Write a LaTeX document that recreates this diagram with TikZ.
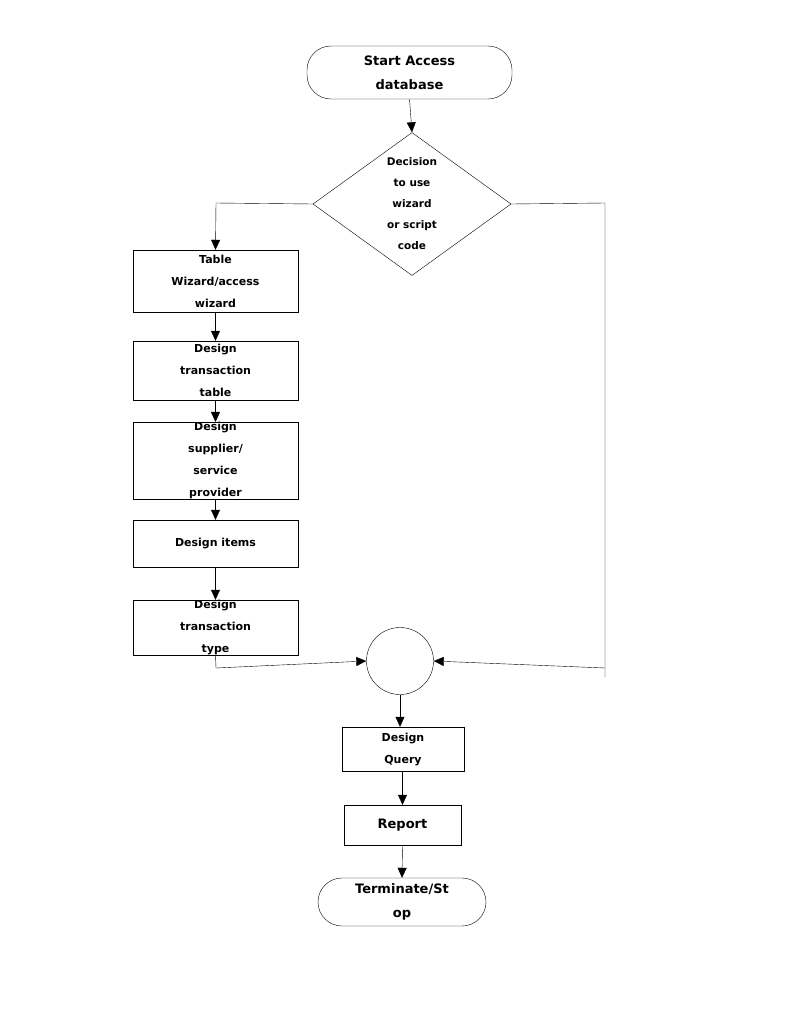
\documentclass[tikz,border=0pt]{standalone}
\usepackage{fontspec}
\setmainfont{DejaVu Sans}
\usetikzlibrary{shapes.geometric,arrows.meta}
\begin{document}
\begin{tikzpicture}[x=1pt,y=-1pt,
  box/.style={draw,inner sep=0,align=center,font=\bfseries\fontsize{11}{22}\selectfont},
  term/.style={draw,rounded corners=24pt,inner sep=0,align=center,font=\bfseries\fontsize{13}{24}\selectfont},
  arr/.style={-{Triangle[length=10pt,width=9pt]}},
  ln/.style={draw,line width=0.6pt}]
\useasboundingbox (0,0) rectangle (791,1023);
\node[term,minimum width=205pt,minimum height=53pt] (start) at (409.5,72.5) {Start Access\\database};
\node[draw,diamond,aspect=1.38,inner sep=0,minimum width=198pt,minimum height=143pt] (dec) at (412,204) {};
\node[align=center,font=\bfseries\fontsize{10.5}{21}\selectfont] at (412,204) {Decision\\to use\\wizard\\or script\\code};
\node[box,minimum width=165pt,minimum height=62pt] (b1) at (215.5,281) {Table\\Wizard/access\\wizard};
\node[box,minimum width=165pt,minimum height=59pt] (b2) at (215.5,370.5) {Design\\transaction\\table};
\node[box,minimum width=165pt,minimum height=57pt] (b3) at (215.5,460.5) {Design\\supplier/\\service\\provider};
\node[box,minimum width=165pt,minimum height=47pt] (b4) at (215.5,543.5) {Design items};
\node[box,minimum width=165pt,minimum height=55pt] (b5) at (215.5,627.5) {Design\\transaction\\type};
\node[draw,circle,minimum size=67pt,inner sep=0] (c) at (400,661) {};
\node[box,minimum width=122pt,minimum height=44pt] (q) at (403,749) {Design\\Query};
\node[box,font=\bfseries\fontsize{13}{24}\selectfont,minimum width=117pt,minimum height=40pt] (r) at (402.5,825) {Report};
\node[term,minimum width=168pt,minimum height=48pt] (t) at (402,902) {Terminate/St\\op};
\coordinate (l1) at (216,203);
\coordinate (r1) at (605,203);
\coordinate (r2) at (605,677);
\coordinate (r3) at (605,668);
\coordinate (l2) at (216,668);
\draw[arr] (start.south) -- (dec.north);
\draw (dec.west) -- (l1);
\draw[arr] (l1) -- (b1.north);
\draw (dec.east) -- (r1) -- (r2);
\draw[arr] (r3) -- (c.east);
\draw[arr] (b1) -- (b2);
\draw[arr] (b2) -- (b3);
\draw[arr] (b3) -- (b4);
\draw[arr] (b4) -- (b5);
\draw (b5.south) -- (l2);
\draw[arr] (l2) -- (c.west);
\draw[arr] (c.south) -- (c.south |- q.north);
\draw[arr] (q.south -| r) -- (r.north);
\draw[arr] (r.south) -- (t.north);
\end{tikzpicture}
\end{document}
